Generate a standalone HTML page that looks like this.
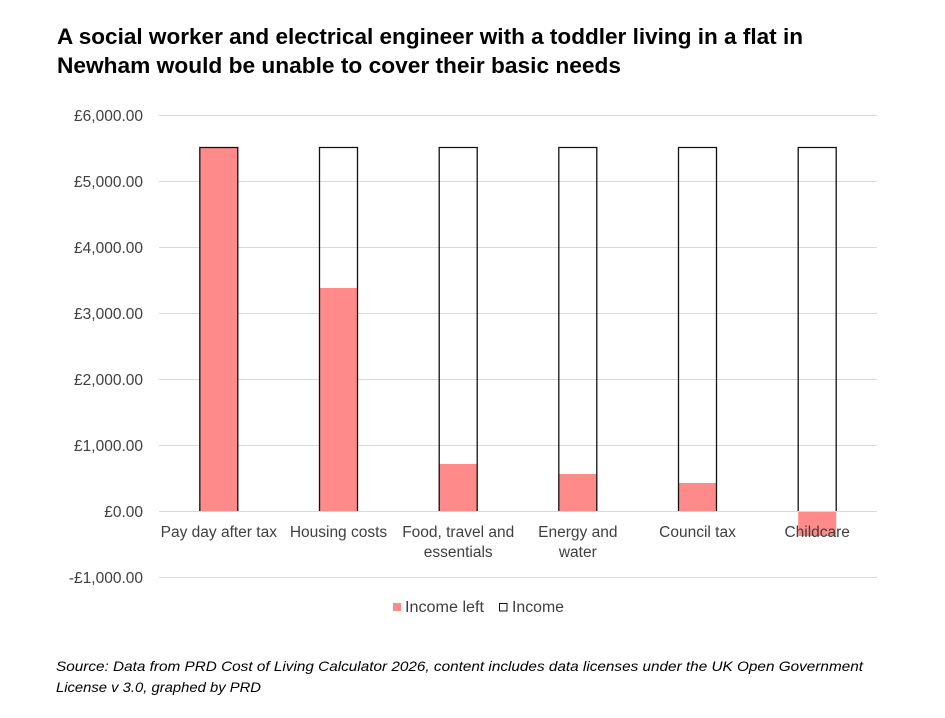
<!DOCTYPE html>
<html>
<head>
<meta charset="utf-8">
<style>
  html, body { margin:0; padding:0; background:#ffffff; }
  svg { display:block; }
  text { font-family: "Liberation Sans", Arial, sans-serif; }
</style>
</head>
<body>
<svg width="945" height="718" viewBox="0 0 945 718" xmlns="http://www.w3.org/2000/svg">
  <rect x="0" y="0" width="945" height="718" fill="#ffffff"/>

  <!-- Title -->
  <text x="57" y="44" font-size="22" font-weight="bold" fill="#000" textLength="746" lengthAdjust="spacingAndGlyphs">A social worker and electrical engineer with a toddler living in a flat in</text>
  <text x="57" y="73" font-size="22" font-weight="bold" fill="#000" textLength="564" lengthAdjust="spacingAndGlyphs">Newham would be unable to cover their basic needs</text>

  <!-- Gridlines -->
  <g stroke="#d9d9d9" stroke-width="1">
    <line x1="159" y1="115.5" x2="877" y2="115.5"/>
    <line x1="159" y1="181.5" x2="877" y2="181.5"/>
    <line x1="159" y1="247.5" x2="877" y2="247.5"/>
    <line x1="159" y1="313.5" x2="877" y2="313.5"/>
    <line x1="159" y1="379.5" x2="877" y2="379.5"/>
    <line x1="159" y1="445.5" x2="877" y2="445.5"/>
    <line x1="159" y1="511.5" x2="877" y2="511.5"/>
    <line x1="159" y1="577.5" x2="877" y2="577.5"/>
  </g>

  <!-- Y axis labels -->
  <g font-size="15.5" fill="#404040" text-anchor="end">
    <text x="143" y="121">£6,000.00</text>
    <text x="143" y="187">£5,000.00</text>
    <text x="143" y="253">£4,000.00</text>
    <text x="143" y="319">£3,000.00</text>
    <text x="143" y="385">£2,000.00</text>
    <text x="143" y="451">£1,000.00</text>
    <text x="143" y="517">£0.00</text>
    <text x="143" y="583">-£1,000.00</text>
  </g>

  <!-- Income left bars (pink) -->
  <g fill="#ff8a8a">
    <rect x="199.8" y="147.5" width="38" height="363.5"/>
    <rect x="319.5" y="288" width="38" height="223"/>
    <rect x="439.2" y="464" width="38" height="47"/>
    <rect x="558.8" y="474" width="38" height="37"/>
    <rect x="678.5" y="483" width="38" height="28"/>
    <rect x="798.2" y="512" width="38" height="24"/>
  </g>

  <!-- Income bars (outline) -->
  <g fill="none" stroke="#111" stroke-width="1.3">
    <path d="M199.8 511 V147.5 H237.8 V511"/>
    <path d="M319.5 511 V147.5 H357.5 V511"/>
    <path d="M439.2 511 V147.5 H477.2 V511"/>
    <path d="M558.8 511 V147.5 H596.8 V511"/>
    <path d="M678.5 511 V147.5 H716.5 V511"/>
    <path d="M798.2 511 V147.5 H836.2 V511"/>
  </g>

  <!-- Category labels -->
  <g font-size="15.5" fill="#404040" text-anchor="middle">
    <text x="218.8" y="537">Pay day after tax</text>
    <text x="338.5" y="537">Housing costs</text>
    <text x="458.2" y="537">Food, travel and</text>
    <text x="458.2" y="557">essentials</text>
    <text x="577.8" y="537">Energy and</text>
    <text x="577.8" y="557">water</text>
    <text x="697.5" y="537">Council tax</text>
    <text x="817.2" y="537">Childcare</text>
  </g>

  <!-- Legend -->
  <rect x="393" y="603" width="8" height="8" fill="#ff8a8a"/>
  <text x="405" y="612" font-size="15.5" fill="#404040" textLength="79" lengthAdjust="spacingAndGlyphs">Income left</text>
  <rect x="499.5" y="603.5" width="7.5" height="7.5" fill="#fff" stroke="#111" stroke-width="1"/>
  <text x="512" y="612" font-size="15.5" fill="#404040" textLength="52" lengthAdjust="spacingAndGlyphs">Income</text>

  <!-- Source -->
  <text x="56" y="671" font-size="14" font-style="italic" fill="#000" textLength="807" lengthAdjust="spacingAndGlyphs">Source: Data from PRD Cost of Living Calculator 2026, content includes data licenses under the UK Open Government</text>
  <text x="56" y="692" font-size="14" font-style="italic" fill="#000" textLength="205" lengthAdjust="spacingAndGlyphs">License v 3.0, graphed by PRD</text>
</svg>
</body>
</html>
